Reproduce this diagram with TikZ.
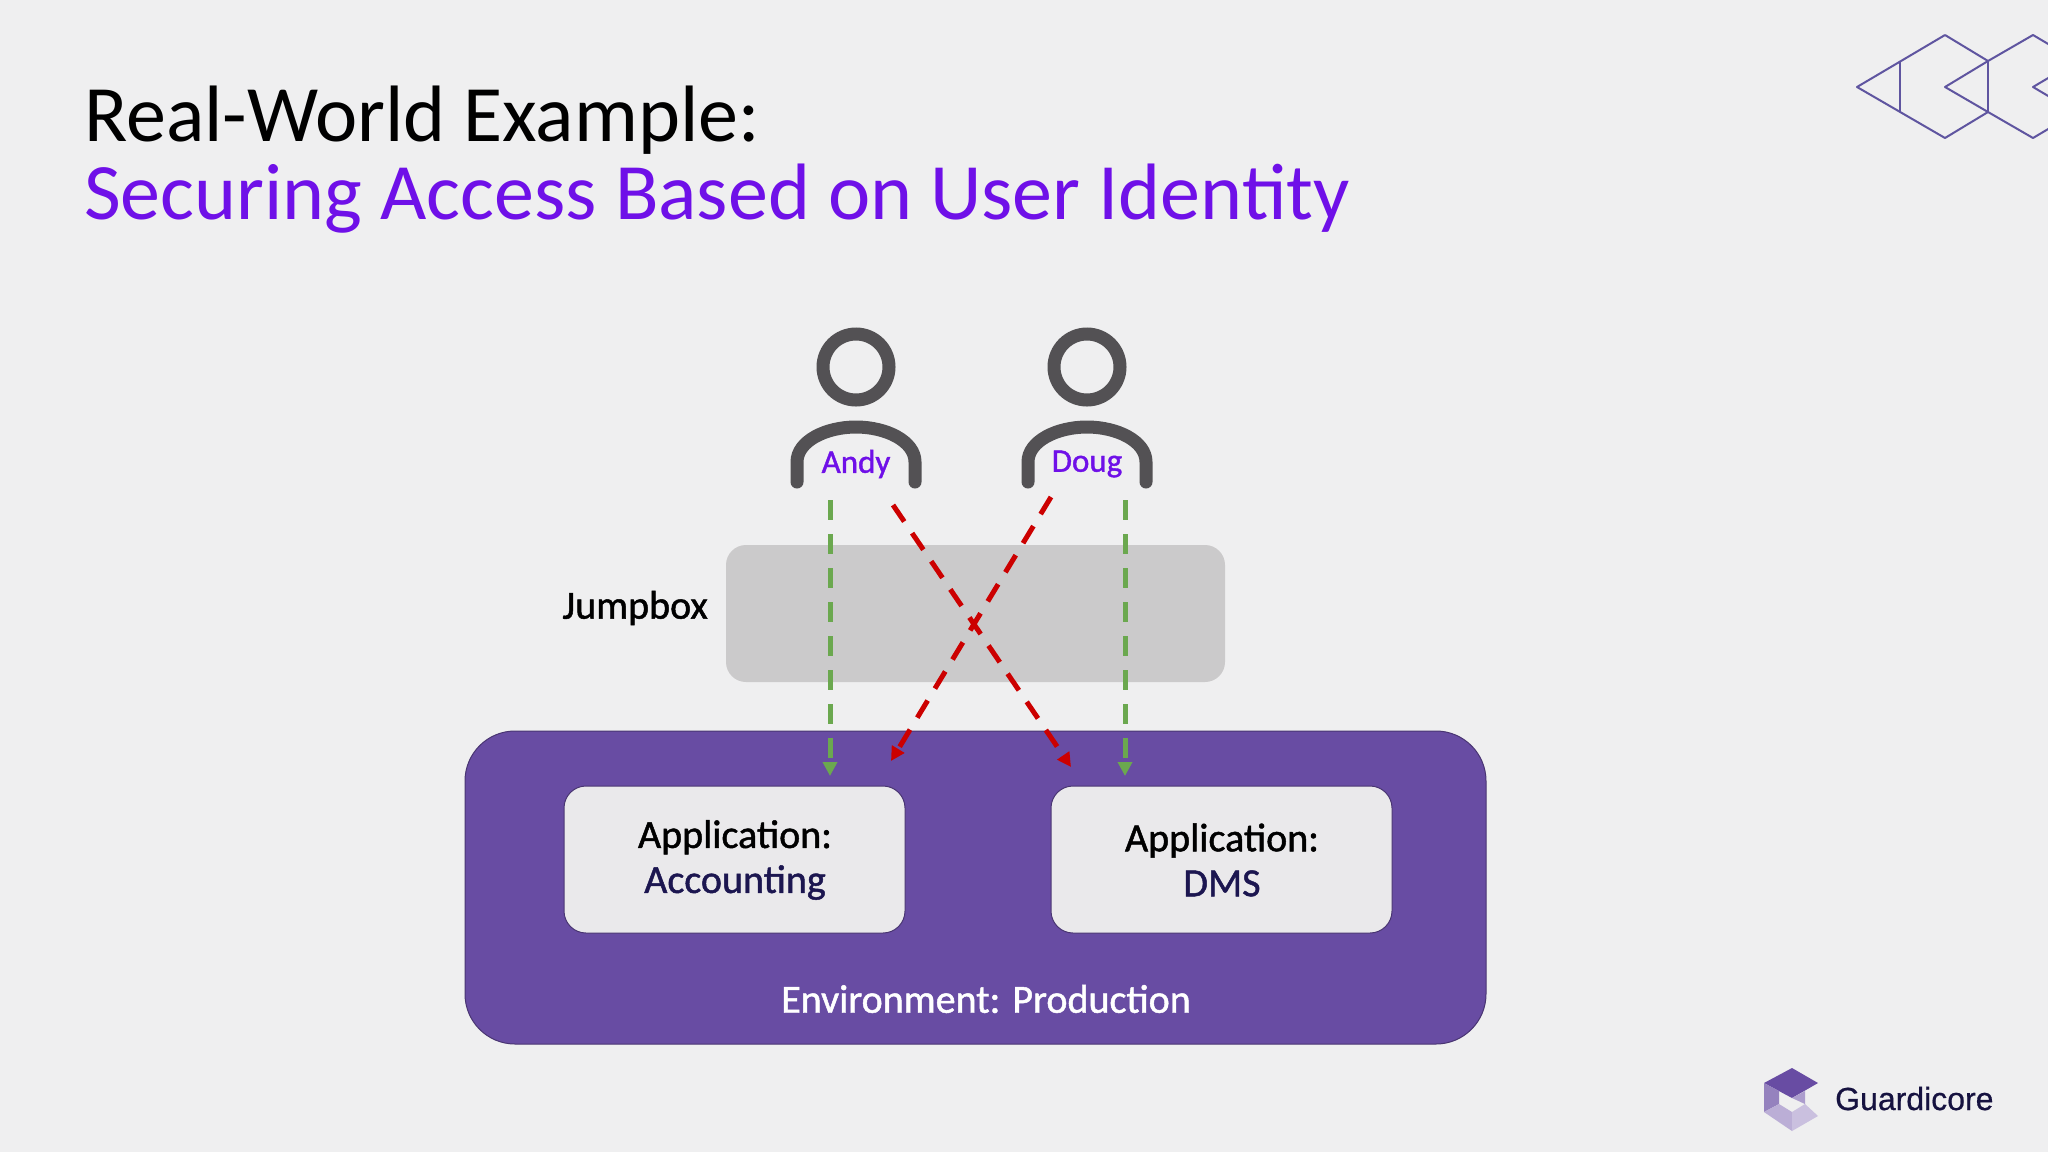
\documentclass[tikz,border=0pt]{standalone}
\usepackage{fontspec}
\setmainfont{Carlito}
\newfontfamily\semifont{Carlito}[FakeBold=1.2]
\newfontfamily\logofont{Liberation Sans}[FakeBold=0.6]
\usepackage{tikz}
\definecolor{pagegray}{HTML}{EFEFF0}
\definecolor{boxgray}{HTML}{CBCACB}
\definecolor{envpurple}{HTML}{684CA3}
\definecolor{titlepurple}{HTML}{6F10E8}
\definecolor{personinkgray}{HTML}{535154}
\definecolor{appgray}{HTML}{EAE9EB}
\definecolor{navytext}{HTML}{1C1650}
\definecolor{okgreen}{HTML}{6BA84F}
\definecolor{denyred}{HTML}{CC0000}
\definecolor{decoline}{HTML}{5F55A0}
\tikzset{
	labeltext/.style={font=\fontsize{40}{46}\selectfont\semifont,align=center,inner sep=0pt},
	appbox/.style={draw=envpurple!70!black,line width=1pt,fill=appgray,rounded corners=22},
	allow/.style={draw=okgreen,line width=5,dash pattern=on 20 off 14,-{Triangle[length=14,width=14,fill=okgreen]}},
	deny/.style={draw=denyred,line width=5,dash pattern=on 20 off 14,-{Triangle[length=14,width=14,fill=denyred]}},
	deco/.style={draw=decoline,line width=2,line join=round}
}
\usetikzlibrary{arrows.meta}
\begin{document}
\begin{tikzpicture}[x=1pt,y=-1pt]
	\useasboundingbox[fill=pagegray] (0,0) rectangle (2048,1152);

	\node[anchor=base west,inner sep=0pt,font=\fontsize{80}{90}\selectfont] (title) at (84,141) {Real-World Example:};
	\node[anchor=base west,inner sep=0pt,font=\fontsize{80}{90}\selectfont,text=titlepurple] (subtitle) at (84,219) {Securing Access Based on User Identity};

	\draw[deco] (1945,35) -- (1857,87) -- (1945,138) -- (1988,112) -- (1945,87) -- (1988,61) -- (1945,35);
	\draw[deco] (1900,62) -- (1900,112);
	\draw[deco] (1988,61) -- (1988,112);
	\draw[deco] (1988,61) -- (2033,35) -- (2060,51);
	\draw[deco] (1988,112) -- (2033,138) -- (2060,122);
	\draw[deco] (2060,71) -- (2033,87) -- (2060,103);

	\draw[fill=boxgray,draw=none,rounded corners=20] (726,545) rectangle (1225,682);
	\node[labeltext,anchor=east] (jumpbox) at (708,608) {Jumpbox};

	\draw[fill=envpurple,draw=envpurple!70!black,line width=1pt,rounded corners=50] (465,731) rectangle (1486,1044);
	\draw[appbox] (564,786) rectangle (905,933);
	\draw[appbox] (1051,786) rectangle (1392,933);
	\node[labeltext] (accounting) at (735,860) {Application:\\[-1pt]\textcolor{navytext}{Accounting}};
	\node[labeltext] (dms) at (1222,860) {Application:\\[-1pt]\textcolor{navytext}{DMS}};
	\node[labeltext,text=white] (production) at (986,999) {Environment: Production};

	\foreach \px/\pname in {856/Andy,1087/Doug}{
		\draw[personinkgray,line width=13] (\px,367) circle [radius=33];
		\draw[personinkgray,line width=13,line cap=round] (\px-59,482) -- (\px-59,462) .. controls (\px-59,441) and (\px-30,427) .. (\px,427) .. controls (\px+30,427) and (\px+59,441) .. (\px+59,462) -- (\px+59,482);
		\node[font=\fontsize{33}{38}\selectfont\semifont,text=titlepurple,inner sep=0pt] (\pname) at (\px,464) {\pname};
	}

	\coordinate (andygreen) at (830,500);
	\coordinate (andyred) at (893,505);
	\coordinate (douggreen) at (1125,500);
	\coordinate (dougred) at (1051,497);
	\coordinate (accgreen) at (830,776);
	\coordinate (accred) at (891,761);
	\coordinate (dmsgreen) at (1125,776);
	\coordinate (dmsred) at (1071,767);
	\draw[allow] (andygreen) -- (accgreen);
	\draw[allow] (douggreen) -- (dmsgreen);
	\draw[deny] (andyred) -- (dmsred);
	\draw[deny] (dougred) -- (accred);

	\fill[envpurple] (1792,1068) -- (1818,1083) -- (1792,1098) -- (1764,1083) -- cycle;
	\fill[envpurple!70] (1764,1083) -- (1779,1091) -- (1779,1104) -- (1764,1112) -- cycle;
	\fill[envpurple!45] (1764,1112) -- (1779,1104) -- (1792,1112) -- (1792,1131) -- cycle;
	\fill[envpurple!35] (1792,1131) -- (1792,1112) -- (1805,1104) -- (1818,1116) -- cycle;
	\fill[envpurple!55] (1792,1098) -- (1805,1091) -- (1805,1104) -- cycle;
	\node[anchor=base west,inner sep=0pt,font=\fontsize{32}{38}\selectfont\logofont,text=navytext!80!black] (guardicore) at (1835,1110) {Guardicore};
\end{tikzpicture}
\end{document}
